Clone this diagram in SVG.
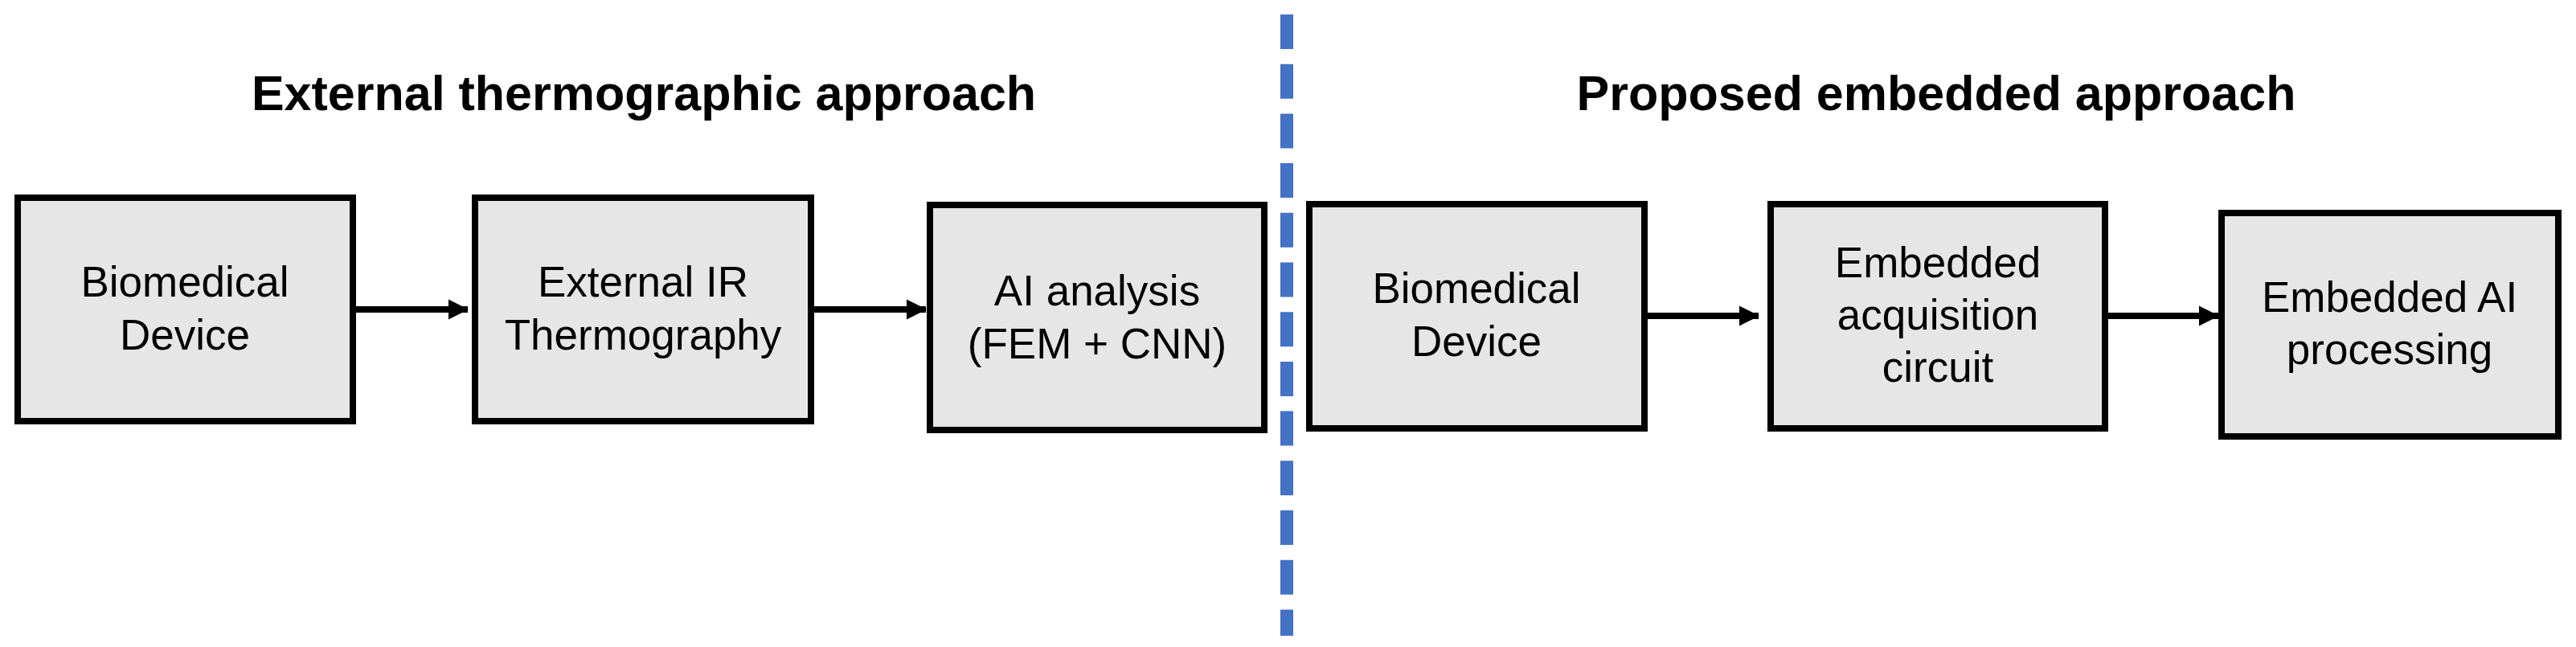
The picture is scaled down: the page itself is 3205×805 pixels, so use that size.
<svg xmlns="http://www.w3.org/2000/svg" width="3205" height="805" viewBox="0 0 3205 805">
  <defs>
    <style>
      .box { fill: #e6e6e6; stroke: #000000; stroke-width: 8; }
      .lbl { font-family: "Liberation Sans", Arial, sans-serif; font-size: 53px; fill: #000000; text-anchor: middle; }
      .title { font-family: "Liberation Sans", Arial, sans-serif; font-size: 61px; font-weight: bold; fill: #000000; text-anchor: middle; }
      .conn { stroke: #000000; stroke-width: 8; fill: none; }
      .divider { stroke: #4472c4; stroke-width: 16; stroke-dasharray: 43 18.7; fill: none; }
    </style>
    <marker id="arrow" markerUnits="userSpaceOnUse" markerWidth="26" markerHeight="26" viewBox="0 0 26 26" refX="24" refY="13" orient="auto">
      <path d="M0,0.5 L25,13 L0,25.5 Z" fill="#000000"/>
    </marker>
  </defs>
  <rect width="3205" height="805" fill="#ffffff"/>

  <text class="title" x="801" y="137">External thermographic approach</text>
  <text class="title" x="2409" y="137">Proposed embedded approach</text>

  <line class="divider" x1="1601" y1="18" x2="1601" y2="791"/>

  <g id="connectors">
    <line class="conn" x1="443" y1="385" x2="582" y2="385" marker-end="url(#arrow)"/>
    <line class="conn" x1="1013" y1="385" x2="1152" y2="385" marker-end="url(#arrow)"/>
    <line class="conn" x1="2050" y1="393" x2="2188" y2="393" marker-end="url(#arrow)"/>
    <line class="conn" x1="2623" y1="393" x2="2760" y2="393" marker-end="url(#arrow)"/>
  </g>

  <g id="node-biomedical-1">
    <rect class="box" x="22" y="246" width="417" height="278"/>
    <text class="lbl" x="230" y="369">Biomedical</text>
    <text class="lbl" x="230" y="435">Device</text>
  </g>
  <g id="node-external-ir">
    <rect class="box" x="591" y="246" width="418" height="278"/>
    <text class="lbl" x="800" y="369">External IR</text>
    <text class="lbl" x="800" y="435">Thermography</text>
  </g>
  <g id="node-ai-analysis">
    <rect class="box" x="1157" y="255" width="416" height="280"/>
    <text class="lbl" x="1365" y="380">AI analysis</text>
    <text class="lbl" x="1365" y="446">(FEM + CNN)</text>
  </g>
  <g id="node-biomedical-2">
    <rect class="box" x="1629" y="254" width="417" height="279"/>
    <text class="lbl" x="1837" y="377">Biomedical</text>
    <text class="lbl" x="1837" y="443">Device</text>
  </g>
  <g id="node-embedded-acq">
    <rect class="box" x="2203" y="254" width="416" height="279"/>
    <text class="lbl" x="2411" y="345">Embedded</text>
    <text class="lbl" x="2411" y="410">acquisition</text>
    <text class="lbl" x="2411" y="475">circuit</text>
  </g>
  <g id="node-embedded-ai">
    <rect class="box" x="2764" y="265" width="419" height="278"/>
    <text class="lbl" x="2973" y="388">Embedded AI</text>
    <text class="lbl" x="2973" y="453">processing</text>
  </g>
</svg>
